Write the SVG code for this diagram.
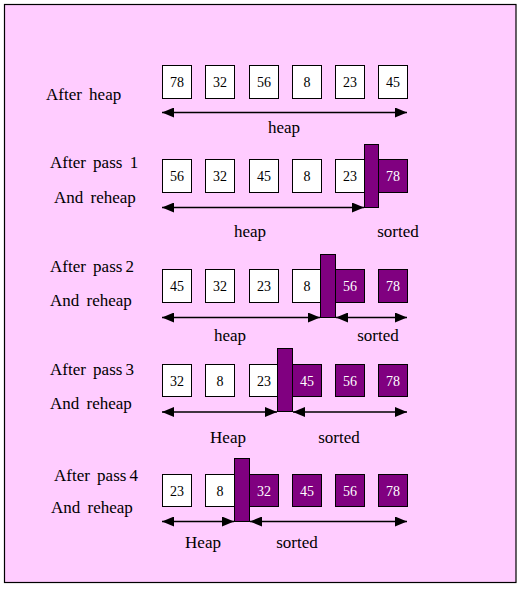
<svg xmlns="http://www.w3.org/2000/svg" width="528" height="591" viewBox="0 0 528 591">
<style>
.lbl{font-family:"Liberation Serif","Times New Roman",serif;font-size:17px;fill:#000;word-spacing:3px}
.cap{font-family:"Liberation Serif","Times New Roman",serif;font-size:17px;fill:#000;text-anchor:middle}
.num{font-family:"Liberation Serif","Times New Roman",serif;font-size:14px;text-anchor:middle}
.w rect{fill:#fff;stroke:#000;stroke-width:1}
.w text{fill:#000}
.p rect{fill:#800080;stroke:#000;stroke-width:1}
.p text{fill:#fff}
.bar{fill:#800080;stroke:#000;stroke-width:1}
.arr{stroke:#000;stroke-width:1.3;fill:none;marker-start:url(#ah);marker-end:url(#ah)}
</style>
<defs>
<marker id="ah" viewBox="0 0 12 10" refX="12" refY="5" markerWidth="12" markerHeight="10" markerUnits="userSpaceOnUse" orient="auto-start-reverse">
<path d="M0,0 L12,5 L0,10 Z" fill="#000"/>
</marker>
</defs>
<rect x="4.5" y="4.5" width="511.5" height="578" fill="#FFCCFF" stroke="#000" stroke-width="1.2"/>

<g id="labels">
<text class="lbl" x="46" y="100">After heap</text>
<text class="lbl" x="50" y="168">After pass 1</text>
<text class="lbl" x="54" y="203">And reheap</text>
<text class="lbl" x="50" y="272">After pass<tspan dx="3">2</tspan></text>
<text class="lbl" x="50" y="306">And reheap</text>
<text class="lbl" x="50" y="375">After pass<tspan dx="3">3</tspan></text>
<text class="lbl" x="50" y="409">And reheap</text>
<text class="lbl" x="54" y="481">After pass<tspan dx="3">4</tspan></text>
<text class="lbl" x="51" y="513">And reheap</text>
</g>

<g id="row1">
<g class="w"><rect x="162.5" y="65.5" width="29" height="33"/><text class="num" x="177" y="87">78</text></g>
<g class="w"><rect x="205.5" y="65.5" width="29" height="33"/><text class="num" x="220" y="87">32</text></g>
<g class="w"><rect x="249.5" y="65.5" width="29" height="33"/><text class="num" x="264" y="87">56</text></g>
<g class="w"><rect x="292.5" y="65.5" width="29" height="33"/><text class="num" x="307" y="87">8</text></g>
<g class="w"><rect x="335.5" y="65.5" width="29" height="33"/><text class="num" x="350" y="87">23</text></g>
<g class="w"><rect x="378.5" y="65.5" width="29" height="33"/><text class="num" x="393" y="87">45</text></g>
<text class="cap" x="284" y="133">heap</text>
</g>

<g id="row2">
<g class="w"><rect x="162.5" y="159.5" width="29" height="33"/><text class="num" x="177" y="181">56</text></g>
<g class="w"><rect x="205.5" y="159.5" width="29" height="33"/><text class="num" x="220" y="181">32</text></g>
<g class="w"><rect x="249.5" y="159.5" width="29" height="33"/><text class="num" x="264" y="181">45</text></g>
<g class="w"><rect x="292.5" y="159.5" width="29" height="33"/><text class="num" x="307" y="181">8</text></g>
<g class="w"><rect x="335.5" y="159.5" width="29" height="33"/><text class="num" x="350" y="181">23</text></g>
<g class="p"><rect x="378.5" y="159.5" width="29" height="33"/><text class="num" x="393" y="181">78</text></g>
<rect class="bar" x="364.5" y="144.5" width="14" height="63"/>
<text class="cap" x="250" y="237">heap</text>
<text class="cap" x="398" y="237">sorted</text>
</g>

<g id="row3">
<g class="w"><rect x="162.5" y="269.5" width="29" height="33"/><text class="num" x="177" y="291">45</text></g>
<g class="w"><rect x="205.5" y="269.5" width="29" height="33"/><text class="num" x="220" y="291">32</text></g>
<g class="w"><rect x="249.5" y="269.5" width="29" height="33"/><text class="num" x="264" y="291">23</text></g>
<g class="w"><rect x="292.5" y="269.5" width="29" height="33"/><text class="num" x="307" y="291">8</text></g>
<g class="p"><rect x="335.5" y="269.5" width="29" height="33"/><text class="num" x="350" y="291">56</text></g>
<g class="p"><rect x="378.5" y="269.5" width="29" height="33"/><text class="num" x="393" y="291">78</text></g>
<rect class="bar" x="320.5" y="254.5" width="15" height="63"/>
<text class="cap" x="230" y="341">heap</text>
<text class="cap" x="378" y="341">sorted</text>
</g>

<g id="row4">
<g class="w"><rect x="162.5" y="364.5" width="29" height="32"/><text class="num" x="177" y="386">32</text></g>
<g class="w"><rect x="205.5" y="364.5" width="29" height="32"/><text class="num" x="220" y="386">8</text></g>
<g class="w"><rect x="249.5" y="364.5" width="29" height="32"/><text class="num" x="264" y="386">23</text></g>
<g class="p"><rect x="292.5" y="364.5" width="29" height="32"/><text class="num" x="307" y="386">45</text></g>
<g class="p"><rect x="335.5" y="364.5" width="29" height="32"/><text class="num" x="350" y="386">56</text></g>
<g class="p"><rect x="378.5" y="364.5" width="29" height="32"/><text class="num" x="393" y="386">78</text></g>
<rect class="bar" x="277.5" y="348.5" width="15" height="63"/>
<text class="cap" x="228" y="443">Heap</text>
<text class="cap" x="339" y="443">sorted</text>
</g>

<g id="row5">
<g class="w"><rect x="162.5" y="474.5" width="29" height="32"/><text class="num" x="177" y="496">23</text></g>
<g class="w"><rect x="205.5" y="474.5" width="29" height="32"/><text class="num" x="220" y="496">8</text></g>
<g class="p"><rect x="249.5" y="474.5" width="29" height="32"/><text class="num" x="264" y="496">32</text></g>
<g class="p"><rect x="292.5" y="474.5" width="29" height="32"/><text class="num" x="307" y="496">45</text></g>
<g class="p"><rect x="335.5" y="474.5" width="29" height="32"/><text class="num" x="350" y="496">56</text></g>
<g class="p"><rect x="378.5" y="474.5" width="29" height="32"/><text class="num" x="393" y="496">78</text></g>
<rect class="bar" x="234.5" y="458.5" width="15" height="63"/>
<text class="cap" x="203" y="548">Heap</text>
<text class="cap" x="297" y="548">sorted</text>
</g>

<g id="connectors">
<line class="arr" x1="162" y1="112.5" x2="407" y2="112.5"/>
<line class="arr" x1="162" y1="207.5" x2="364" y2="207.5"/>
<line class="arr" x1="162" y1="317.5" x2="320" y2="317.5"/>
<line class="arr" x1="336" y1="317.5" x2="407" y2="317.5"/>
<line class="arr" x1="162" y1="412" x2="277" y2="412"/>
<line class="arr" x1="293" y1="412" x2="407" y2="412"/>
<line class="arr" x1="162" y1="521.5" x2="234" y2="521.5"/>
<line class="arr" x1="250" y1="521.5" x2="407" y2="521.5"/>
</g>
</svg>
